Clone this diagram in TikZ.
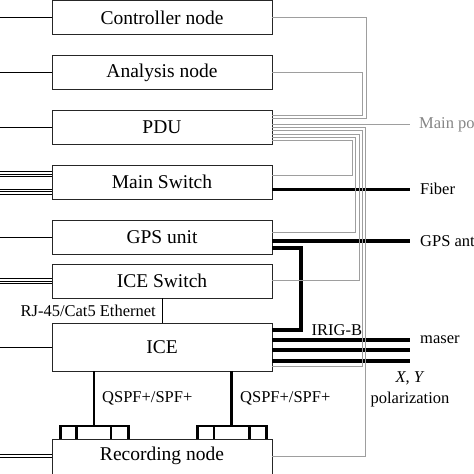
\documentclass[tikz,border=0pt]{standalone}
\usepackage{fontspec}
\setmainfont{Liberation Serif}
\begin{document}
\begin{tikzpicture}[x=1pt,y=-1pt,
  box/.style={draw=black!85,line width=0.9pt,minimum width=220pt,minimum height=34pt,inner sep=0pt,font=\fontsize{19.5}{22}\selectfont},
  lbl/.style={inner sep=0pt,font=\fontsize{16.5}{19}\selectfont},
  wire/.style={draw=black,line width=0.8pt},
  dwire/.style={draw=black,line width=0.6pt},
  pwr/.style={draw=black!38,line width=0.8pt},
  heavy/.style={draw=black,line width=4pt},
  med/.style={draw=black,line width=3pt},
  bus/.style={draw=black,line width=2.6pt}
]
\useasboundingbox (0,0) rectangle (474,474);

% boxes
\node[box] (ctrl) at (162,17.5) {Controller node};
\node[box] (ana) at (162,72.5) {Analysis node};
\node[box] (pdu) at (162,127) {PDU};
\node[box] (ms) at (162,182) {Main Switch};
\node[box] (gps) at (162,237) {GPS unit};
\node[box] (icesw) at (162,281) {ICE Switch};
\node[box,minimum height=48pt] (ice) at (162,347) {ICE};
\node[box,minimum height=52pt,text height=14pt,text depth=24pt] (rec) at (162,465) {Recording node};

% left-side cables
\draw[wire] (ctrl.west) -- (ctrl.west -| 0,0);
\draw[wire] (ana.west) -- (ana.west -| 0,0);
\draw[wire] (pdu.west) -- (pdu.west -| 0,0);
\foreach \yy in {171.5,174,176.5,189,191.5,194}
  \draw[dwire] (ms.west |- 0,\yy) -- (0,\yy);
\draw[wire] (gps.west) -- (gps.west -| 0,0);
\foreach \yy in {278.5,281,283.5}
  \draw[dwire] (icesw.west |- 0,\yy) -- (0,\yy);
\draw[wire] (ice.west) -- (ice.west -| 0,0);
\foreach \yy in {454.5,457.5}
  \draw[dwire] (rec.west |- 0,\yy) -- (0,\yy);

% Ethernet
\draw[wire] (icesw.south) -- (ice.north);
\node[lbl,anchor=east] (eth) at (156,311) {RJ-45/Cat5 Ethernet};

% external thick cables
\coordinate (fiberend) at (410,189);
\coordinate (gpsend) at (410,241);
\draw[med] (ms.east |- fiberend) -- (fiberend);
\node[lbl,anchor=west] (fiber) at (420,189) {Fiber};
\draw[heavy] (gps.east |- gpsend) -- (gpsend);
\node[lbl,anchor=west] (gpsant) at (420,241) {GPS antenna};

% IRIG-B
\draw[heavy] (gps.east |- 0,247.5) -| (300.5,329.5) -- (ice.east |- 0,329.5);
\node[lbl,anchor=base west] (irig) at (311.5,335.5) {IRIG-B};

% maser / polarization
\coordinate (m1) at (410,340);
\coordinate (m2) at (410,350.3);
\coordinate (m3) at (410,360.7);
\draw[heavy] (ice.east |- m1) -- (m1);
\draw[heavy] (ice.east |- m2) -- (m2);
\draw[heavy] (ice.east |- m3) -- (m3);
\node[lbl,anchor=west] (maser) at (420,340) {maser};
\node[lbl] (xy) at (410,378) {\textit{X}, \textit{Y}};
\node[lbl] (pol) at (410,400) {polarization};

% QSPF buses
\draw[bus] (ice.south -| 94,0) -- (94,426);
\draw[bus] (rec.north -| 60.3,0) -- (60.3,426) -- (128.3,426) -- (rec.north -| 128.3,0);
\draw[bus] (rec.north -| 76.7,0) -- (76.7,426);
\draw[bus] (rec.north -| 111,0) -- (111,426);
\node[lbl,anchor=west] (q1) at (102,398.5) {QSPF+/SPF+};
\draw[bus] (ice.south -| 231.7,0) -- (231.7,426);
\draw[bus] (rec.north -| 197.3,0) -- (197.3,426) -- (266.3,426) -- (rec.north -| 266.3,0);
\draw[bus] (rec.north -| 214,0) -- (214,426);
\draw[bus] (rec.north -| 249.3,0) -- (249.3,426);
\node[lbl,anchor=west] (q2) at (240,398.5) {QSPF+/SPF+};

% power wiring (gray)
\draw[pwr] (ctrl.east) -- (366,17.5) -- (366,118.3) -- (pdu.east |- 0,118.3);
\draw[pwr] (ana.east) -- (362.5,72.5) -- (362.5,115.8) -- (pdu.east |- 0,115.8);
\coordinate (mpend) at (410,124.3);
\draw[pwr] (pdu.east |- mpend) -- (mpend);
\node[lbl,anchor=west,text=black!48] (mp) at (419,124.3) {Main power};
\draw[pwr] (pdu.east |- 0,127.5) -- (365.7,127.5) -- (365.7,456) -- (rec.east |- 0,456);
\draw[pwr] (pdu.east |- 0,130.8) -- (362.3,130.8) -- (362.3,366.7) -- (ice.east |- 0,366.7);
\draw[pwr] (pdu.east |- 0,134.1) -- (358.9,134.1) -- (358.9,280.7) -- (icesw.east |- 0,280.7);
\draw[pwr] (pdu.east |- 0,137.4) -- (355.5,137.4) -- (355.5,232.7) -- (gps.east |- 0,232.7);
\draw[pwr] (pdu.east |- 0,140.7) -- (352.1,140.7) -- (352.1,175) -- (ms.east |- 0,175);
\end{tikzpicture}
\end{document}
